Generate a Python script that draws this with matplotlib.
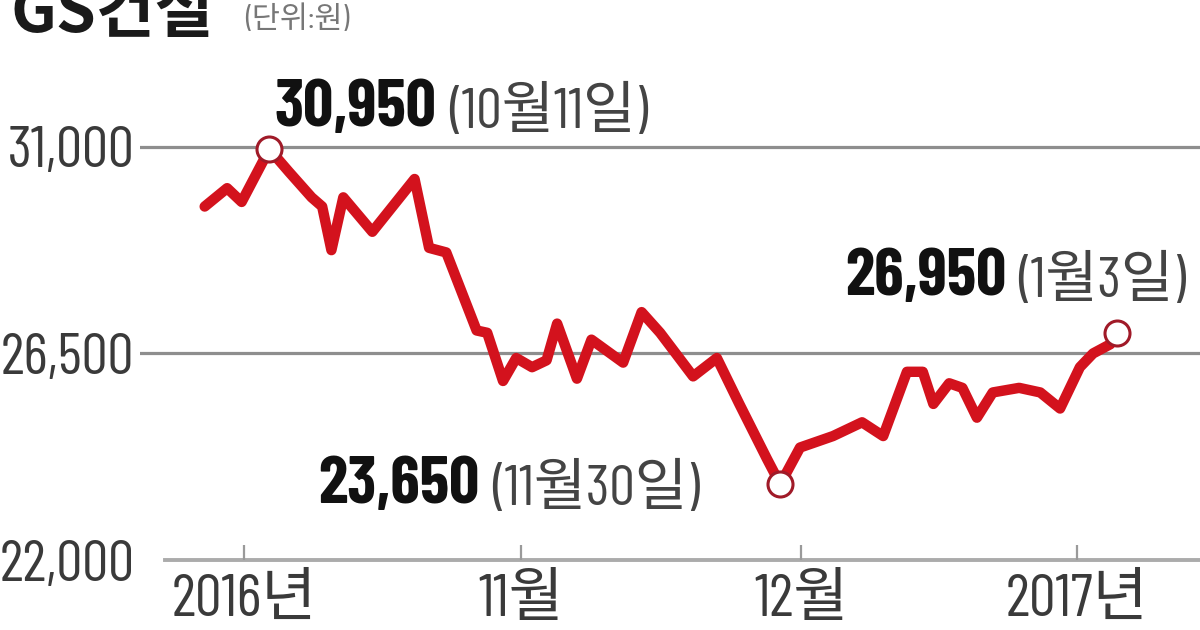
import matplotlib
matplotlib.use("Agg")
import matplotlib.pyplot as plt

FONTS = ['Barlow Condensed', 'Noto Sans CJK KR', 'DejaVu Sans']
plt.rcParams['font.family'] = FONTS
plt.rcParams['font.stretch'] = 'condensed'

# trading-day position from the first point, closing price (won)
pos = [0, 1.7, 2.8, 4.9, 6.4, 8.1, 8.9, 9.6, 10.5, 12.7,
       15.9, 17.0, 18.3, 20.6, 21.4, 22.6, 23.6, 24.8, 25.9, 26.7,
       28.2, 29.3, 31.7, 33.1, 34.5, 37.0, 38.8, 40.5, 42.6, 43.6,
       45.1, 47.6, 49.8, 51.4, 53.2, 54.4, 55.2, 56.4, 57.4, 58.5,
       59.7, 61.7, 63.3, 64.8, 66.3, 67.3, 68.6, 69.1]
prices = [29700, 30100, 29800, 30950, 30450, 29900, 29700, 28750, 29900, 29150,
          30300, 28800, 28700, 27000, 26950, 25900, 26400, 26200, 26350, 27150,
          25950, 26800, 26300, 27400, 26950, 26000, 26400, 25400, 24200, 23650,
          24450, 24700, 25000, 24700, 26100, 26100, 25400, 25850, 25750, 25100,
          25650, 25750, 25650, 25300, 26200, 26500, 26700, 26950]

mark_idx = [3, 29, 47]
mark_dates = ['(10월11일)', '(11월30일)', '(1월3일)']
# label offsets from the marker, in pixels (right, up)
mark_offsets = [(5, 23), (-462, -19), (-272, 38)]

xtick_pos = [3.0, 24.0, 45.2, 66.1]
xtick_labels = ['2016년', '11월', '12월', '2017년']
ytick_vals = [22000, 26500, 31000]

RED = '#d3121d'
DARKRED = '#a01a28'

fig = plt.figure(figsize=(12, 6.3), dpi=100)
ax = fig.add_axes([140 / 1200, 70 / 630, 1060 / 1200, 482 / 630])
ax.set_xlim(-4.9, 75.4)
ax.set_ylim(22000, 32500)

for s in ax.spines.values():
    s.set_visible(False)

for v in ytick_vals[1:]:
    ax.axhline(v, color='#8e8e8e', lw=2.3, zorder=1)
ax.axhline(22000, xmin=25 / 1060, color='#ababab', lw=2.8, zorder=1, clip_on=False)

ax.plot(pos, prices, color=RED, lw=7.5, solid_joinstyle='round',
        solid_capstyle='round', zorder=3)
ax.plot([pos[i] for i in mark_idx], [prices[i] for i in mark_idx], 'o',
        ms=18, mfc='white', mec=DARKRED, mew=2.2, zorder=4)

for i, d, (dx, dy) in zip(mark_idx, mark_dates, mark_offsets):
    t = ax.annotate(f'{prices[i]:,}', xy=(pos[i], prices[i]),
                    xytext=(dx * 0.72, dy * 0.72), textcoords='offset points',
                    ha='left', va='baseline', fontsize=48, fontweight='bold',
                    color='#111111', zorder=5)
    ax.annotate(d, xy=(1, 0), xycoords=t, xytext=(9, 0),
                textcoords='offset points', ha='left', va='bottom',
                fontsize=41, color='#444444', zorder=5)

ax.set_yticks(ytick_vals)
ax.set_yticklabels([f'{v:,}' for v in ytick_vals])
ax.tick_params(axis='y', length=0, pad=4, labelsize=42, labelcolor='#3a3a3a')

ax.set_xticks(xtick_pos)
ax.set_xticklabels(xtick_labels)
ax.tick_params(axis='x', direction='in', length=11, width=1.6, color='#9a9a9a',
               pad=10, labelsize=43, labelcolor='#3a3a3a')

fig.text(10 / 1200, 1 - 32 / 630, 'GS건설', fontsize=46, fontweight='bold',
         va='baseline', ha='left', color='#1a1a1a',
         family=['Noto Sans CJK KR', 'DejaVu Sans'])
fig.text(245 / 1200, 1 - 28 / 630, '(단위:원)', fontsize=22,
         va='baseline', ha='left', color='#777777')

fig.savefig('out.png', dpi=100, facecolor='white')
